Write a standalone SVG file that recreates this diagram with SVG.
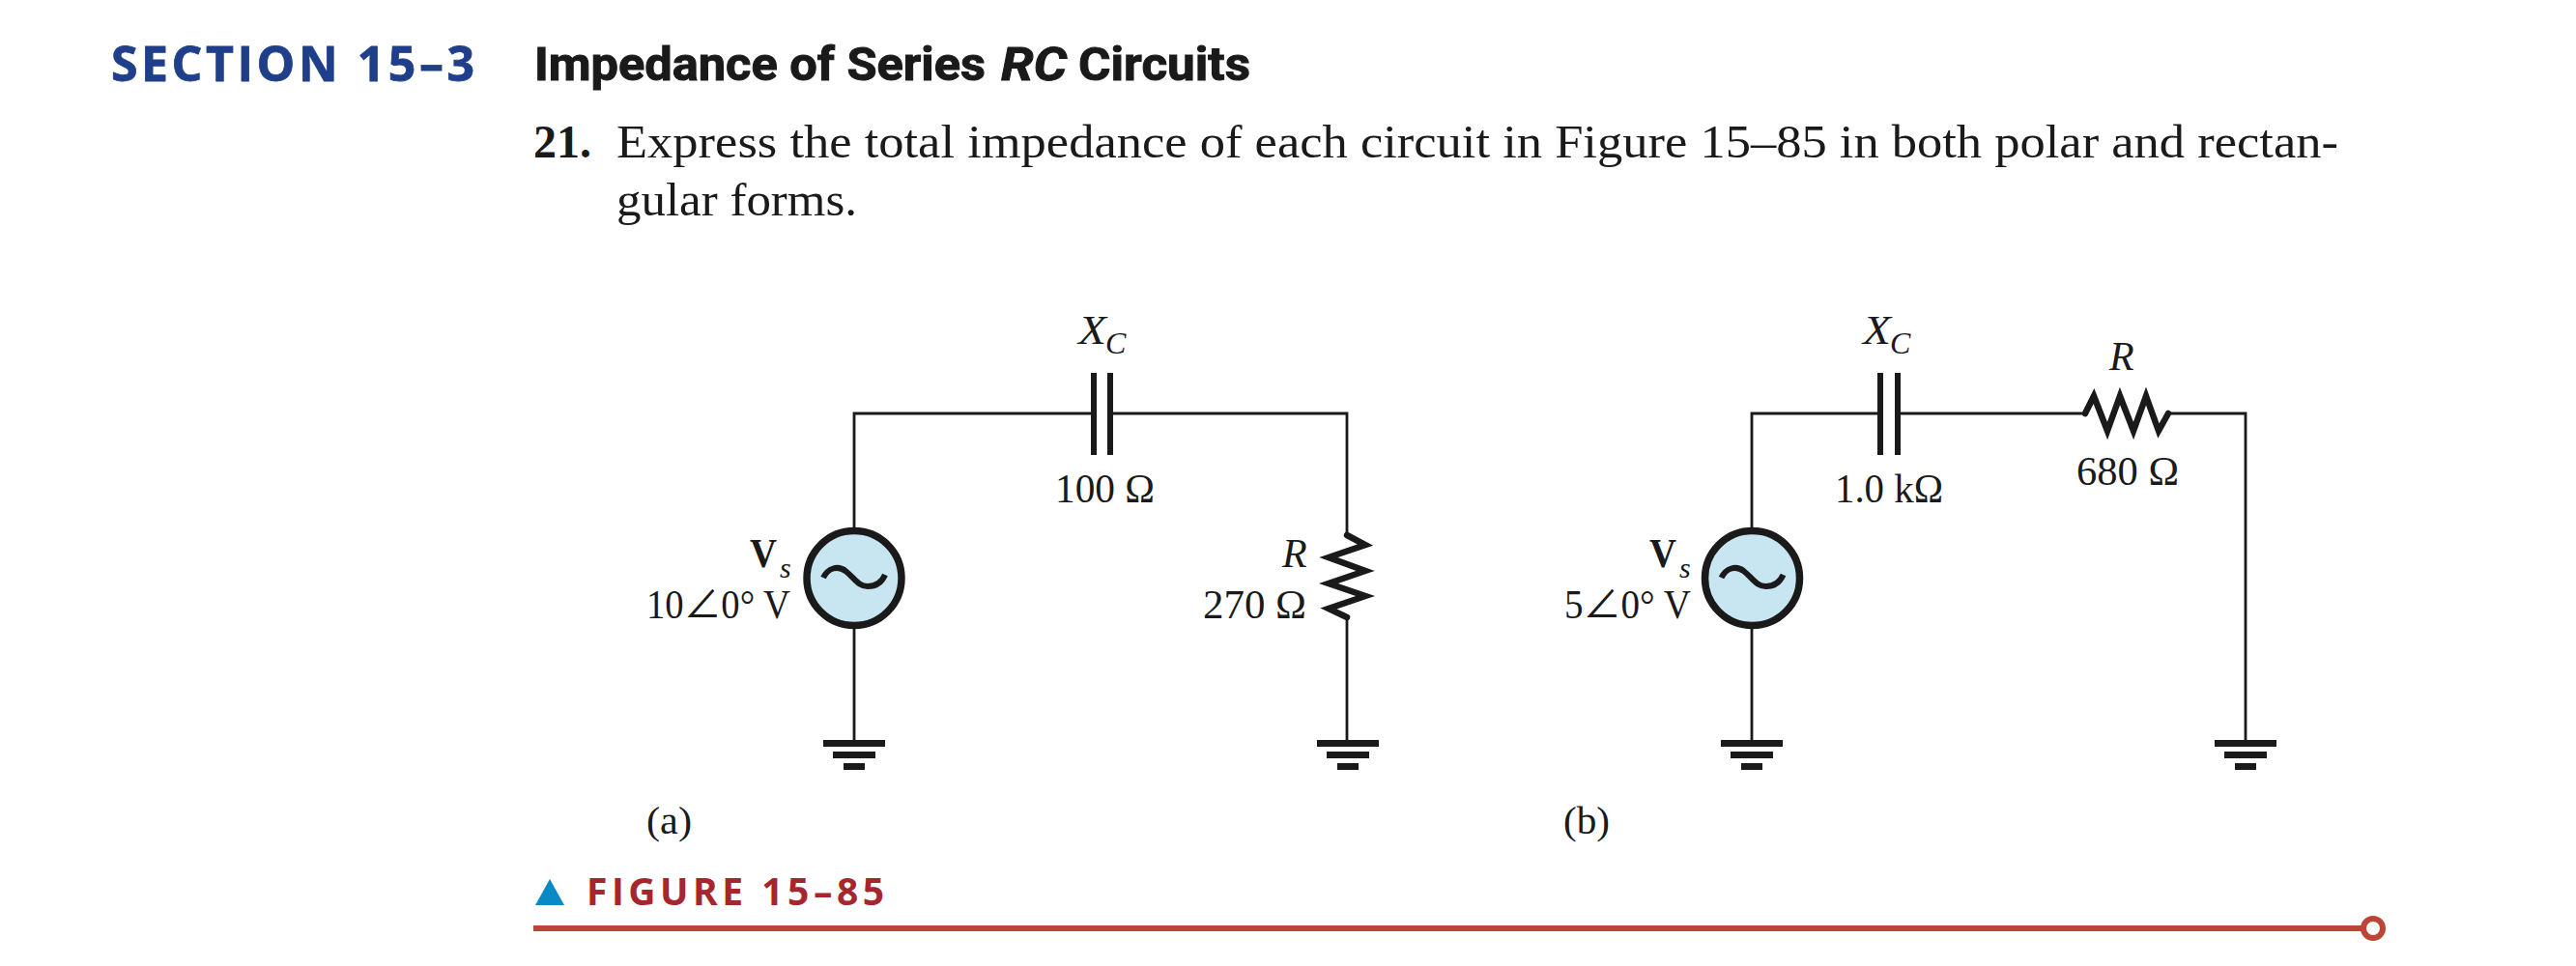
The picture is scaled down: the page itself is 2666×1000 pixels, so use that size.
<svg xmlns="http://www.w3.org/2000/svg" width="2666" height="1000" viewBox="0 0 2666 1000">
<style>
text{fill:#1a1a1a;font-family:"Liberation Serif","Noto Sans CJK SC",serif}
.b{font-size:48px}
.v{font-size:43px}
.i{font-style:italic;font-size:42px}
.sub{font-style:italic;font-size:32px}
.vs{font-weight:bold;font-size:43px}
.s{font-style:italic;font-size:30px}
.w{fill:none;stroke:#1a1a1a;stroke-width:2.8}
.cap{stroke:#1a1a1a;stroke-width:6;fill:none}
.res{fill:none;stroke:#1a1a1a;stroke-width:6.5;stroke-linejoin:miter;stroke-miterlimit:12;stroke-linecap:round}
.src{fill:#c8e6f1;stroke:#1a1a1a;stroke-width:7.5}
.tl{fill:none;stroke:#1a1a1a;stroke-width:6}
.g{fill:#1a1a1a}
.head{font-family:"Open Sans","Liberation Sans",sans-serif;font-weight:bold;font-size:50px}
.title{font-family:Roboto,"Liberation Sans",sans-serif;font-weight:bold;font-size:48px;stroke:#1a1a1a;stroke-width:1}
.sec{fill:#1f3f8a;stroke:#1f3f8a;stroke-width:.8}
.fig{font-family:"Open Sans","Liberation Sans",sans-serif;font-weight:bold;fill:#a6262e;font-size:39px}
</style>
<g id="header">
<text class="head sec" x="115" y="84" textLength="376" lengthAdjust="spacing">SECTION 15–3</text>
<text class="title" x="553" y="83" textLength="467" lengthAdjust="spacingAndGlyphs">Impedance of Series</text>
<text class="title" x="1036" y="83" font-style="italic" textLength="68" lengthAdjust="spacingAndGlyphs">RC</text>
<text class="title" x="1116" y="83" textLength="178" lengthAdjust="spacingAndGlyphs">Circuits</text>
<text class="b" x="552" y="163" font-weight="bold" textLength="60" lengthAdjust="spacingAndGlyphs">21.</text>
<text class="b" x="638" y="163" textLength="1782" lengthAdjust="spacingAndGlyphs">Express the total impedance of each circuit in Figure 15–85 in both polar and rectan-</text>
<text class="b" x="638" y="223" textLength="249" lengthAdjust="spacingAndGlyphs">gular forms.</text>
</g>
<g id="connectors">
<path class="w" d="M884 546V428H1132M1149 428H1394V554M1394 639V766M884 651V766"/>
<path class="w" d="M1813 546V428H1946M1964 428H2158M2244 428H2324V766M1813 651V766"/>
</g>
<g id="cap-a"><path class="cap" d="M1132 386V471M1149 386V471"/>
<text class="i" x="1116" y="356" textLength="29" lengthAdjust="spacingAndGlyphs">X</text><text class="sub" x="1144" y="366">C</text>
<text class="v" x="1092" y="520" textLength="103" lengthAdjust="spacingAndGlyphs">100 Ω</text></g>
<g id="res-a"><path class="res" d="M1394 554L1413 564L1375 577L1413 591L1375 604L1413 617L1375 630L1394 639"/>
<text class="i" x="1327" y="587">R</text>
<text class="v" x="1245" y="640" textLength="107" lengthAdjust="spacingAndGlyphs">270 Ω</text></g>
<g id="src-a"><circle class="src" cx="884" cy="598.500" r="49"/><path class="tl" d="M852 598C857 588 867 585 875 591C885 599 888 607 898 607C907 607 913 602 916 595"/>
<text class="vs" x="776" y="587" textLength="28" lengthAdjust="spacingAndGlyphs">V</text><text class="s" x="807" y="598">s</text>
<text class="v" x="669" y="640" textLength="149" lengthAdjust="spacingAndGlyphs">10∠0° V</text></g>
<g id="gnd-a1"><path class="g" d="M852 766h64v7h-64zM862 778h44v7h-44zM873 790h22v7h-22z"/></g>
<g id="gnd-a2"><path class="g" d="M1363 766h64v7h-64zM1373 778h44v7h-44zM1384 790h22v7h-22z"/></g>
<text id="label-a" x="669" y="863" font-size="40" textLength="47" lengthAdjust="spacingAndGlyphs">(a)</text>
<g id="cap-b"><path class="cap" d="M1946 386V471M1964 386V471"/>
<text class="i" x="1928" y="356" textLength="29" lengthAdjust="spacingAndGlyphs">X</text><text class="sub" x="1956" y="366">C</text>
<text class="v" x="1899" y="520" textLength="112" lengthAdjust="spacingAndGlyphs">1.0 kΩ</text></g>
<g id="res-b"><path class="res" d="M2158 428L2167 410L2181 446L2194 410L2208 446L2221 410L2234 446L2244 428"/>
<text class="i" x="2183" y="383">R</text>
<text class="v" x="2149" y="502" textLength="106" lengthAdjust="spacingAndGlyphs">680 Ω</text></g>
<g id="src-b"><circle class="src" cx="1813.500" cy="598.500" r="49"/><path class="tl" d="M1781.500 598C1786.500 588 1796.500 585 1804.500 591C1814.500 599 1817.500 607 1827.500 607C1836.500 607 1842.500 602 1845.500 595"/>
<text class="vs" x="1707" y="587" textLength="28" lengthAdjust="spacingAndGlyphs">V</text><text class="s" x="1738" y="598">s</text>
<text class="v" x="1619" y="640" textLength="131" lengthAdjust="spacingAndGlyphs">5∠0° V</text></g>
<g id="gnd-b1"><path class="g" d="M1781 766h64v7h-64zM1791 778h44v7h-44zM1802 790h22v7h-22z"/></g>
<g id="gnd-b2"><path class="g" d="M2292 766h64v7h-64zM2302 778h44v7h-44zM2313 790h22v7h-22z"/></g>
<text id="label-b" x="1618" y="863" font-size="40" textLength="48" lengthAdjust="spacingAndGlyphs">(b)</text>
<g id="caption">
<path d="M569 910L584 937H554Z" fill="#0a8ac4"/>
<text class="fig" x="607" y="937" textLength="308" lengthAdjust="spacing">FIGURE 15–85</text>
<rect x="552" y="958" width="1893" height="6" fill="#bb4536"/>
<circle cx="2456" cy="961" r="10" fill="#fff" stroke="#bb4536" stroke-width="6"/>
</g>
</svg>
